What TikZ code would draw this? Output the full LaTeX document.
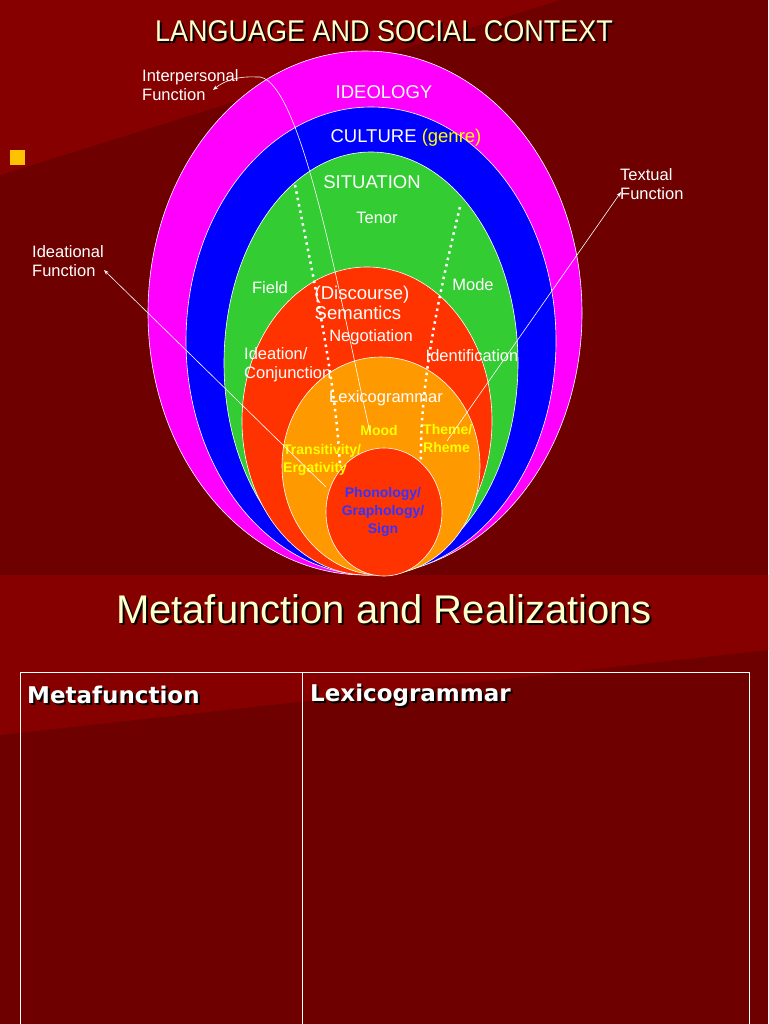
\documentclass[tikz,border=0pt]{standalone}
\usepackage{fontspec}
\setmainfont{Liberation Sans}
\newfontfamily\hdfont{DejaVu Sans}
\usetikzlibrary{arrows.meta}
\definecolor{bgd}{HTML}{6E0000}
\definecolor{bgl}{HTML}{860000}
\definecolor{magen}{HTML}{FF00FF}
\definecolor{blu}{HTML}{0000FF}
\definecolor{grn}{HTML}{33CC33}
\definecolor{rd}{HTML}{FF3300}
\definecolor{orn}{HTML}{FF9900}
\definecolor{ttl}{HTML}{FFFFCC}
\definecolor{yel}{HTML}{FFFF00}
\definecolor{phon}{HTML}{3333FF}
\begin{document}
\begin{tikzpicture}[x=1pt,y=-1pt,
  ring/.style={draw=white,line width=0.6pt},
  lab/.style={text=white,font=\fontsize{16.5}{19}\selectfont,inner sep=0pt,align=left},
  big/.style={text=white,font=\fontsize{18.5}{20}\selectfont,inner sep=0pt,align=left},
  ylab/.style={text=yel,font=\bfseries\fontsize{14}{18}\selectfont,inner sep=0pt,align=left},
  dots/.style={draw=white,line width=2.5pt,dash pattern=on 2.5pt off 4pt},
  conn/.style={draw=white,line width=0.6pt},
  hd/.style={anchor=west,font=\hdfont\bfseries\fontsize{23}{26}\selectfont,inner sep=0pt},
  shadowtxt/.style={inner sep=0pt}]
\useasboundingbox (0,0) rectangle (768,1024);
% backgrounds
\fill[bgd] (0,0) rectangle (768,575);
\fill[bgl] (0,0) -- (560,0) -- (0,175) -- cycle;
\fill[bgd] (0,575) rectangle (768,1024);
\fill[bgl] (0,575) -- (768,575) -- (768,650) -- (0,735) -- cycle;
% ellipses
\path[ring,fill=magen] (365,313) ellipse [x radius=217,y radius=262];
\path[ring,fill=blu] (371,341) ellipse [x radius=185,y radius=234];
\path[ring,fill=grn] (371,363) ellipse [x radius=147,y radius=211];
\path[ring,fill=rd] (367,421) ellipse [x radius=125,y radius=154];
\path[ring,fill=orn] (381,466) ellipse [x radius=99,y radius=109];
\path[ring,fill=rd] (384,512) ellipse [x radius=58,y radius=64];
% dotted boundaries
\draw[dots] (295,185) .. controls (318,300) and (335,380) .. (340,465);
\draw[dots] (460,207) .. controls (440,290) and (420,380) .. (421,460);
% title
\node[shadowtxt,text=black] at (386,33) {\fontsize{30}{32}\selectfont\scalebox{0.9}[1]{LANGUAGE AND SOCIAL CONTEXT}};
\node[shadowtxt,text=ttl] (title) at (384,31) {\fontsize{30}{32}\selectfont\scalebox{0.9}[1]{LANGUAGE AND SOCIAL CONTEXT}};
\fill[orn!60!yellow] (10,150) rectangle (25,165);
% labels
\node[lab,anchor=west] (ip) at (142,85) {Interpersonal\\Function};
\node[lab,anchor=west] (id) at (32,261) {Ideational\\Function};
\node[lab,anchor=west] (tx) at (620,184) {Textual\\Function};
\node[big] at (384,92) {IDEOLOGY};
\node[big] at (406,138) {CULTURE \textcolor{yel}{(genre)}};
\node[big] at (372,182) {SITUATION};
\node[lab] at (377,218) {Tenor};
\node[lab] at (270,288) {Field};
\node[lab] at (473,285) {Mode};
\node[big,align=left] at (362,303) {(Discourse)\\Semantics};
\node[lab] at (371,337) {Negotiation};
\node[lab] at (472,356) {Identification};
\node[lab,anchor=west] at (244,365) {Ideation/\\Conjunction};
\node[lab] at (386,398) {Lexicogrammar};
\node[ylab] (mood) at (379,430) {Mood};
\node[ylab,anchor=west] (theme) at (423,438) {Theme/\\Rheme};
\node[ylab,anchor=west] at (283,460) {Transitivity/\\Ergativity};
\node[text=phon,font=\bfseries\fontsize{14}{18}\selectfont,align=center,inner sep=0pt] (ph) at (383,512) {Phonology/\\Graphology/\\Sign};
% connectors
\coordinate (ipend) at (370,432);
\coordinate (ipstart) at (256,77);
\coordinate (idend) at (326,487);
\coordinate (txend) at (447,441);
\draw[conn] (ipstart) .. controls (300,70) and (340,300) .. (ipend);
\draw[conn,-{Stealth[length=5pt]}] (ipstart) .. controls (240,76) and (225,80) .. (213,90);
\draw[conn,-{Stealth[length=5pt]}] (idend) -- (id.east |- 0,270);
\draw[conn,-{Stealth[length=5pt]}] (txend) -- (621,192);
% bottom slide
\node[shadowtxt,text=black] at (386,611) {\fontsize{40}{44}\selectfont Metafunction and Realizations};
\node[shadowtxt,text=ttl] (t2) at (384,609) {\fontsize{40}{44}\selectfont Metafunction and Realizations};
\draw[white,line width=1pt] (20,1030) -- (20,672) -- (749,672) -- (749,1030);
\draw[white,line width=1pt] (302,672) -- (302,1030);
\node[hd,text=black] at (29,697) {Metafunction};
\node[hd,text=white] (h1) at (27,695) {Metafunction};
\node[hd,text=black] at (312,697) {Lexicogrammar};
\node[hd,text=white] (h2) at (310,695) {Lexicogrammar};
\end{tikzpicture}
\end{document}
